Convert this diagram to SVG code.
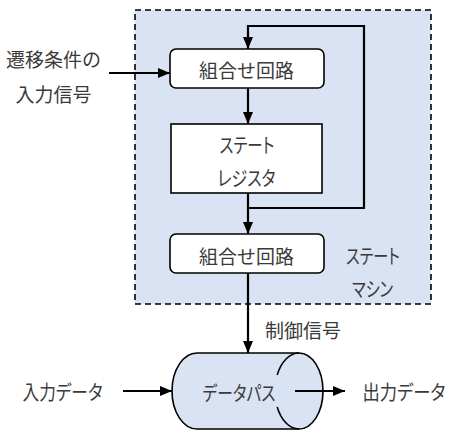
<svg xmlns="http://www.w3.org/2000/svg" width="474" height="442" viewBox="0 0 474 442">
<style>
text{font-family:"Noto Sans CJK JP","Noto Sans",sans-serif;font-size:19px;fill:#3a3a3a;text-anchor:middle;dominant-baseline:central}
.k{font-feature-settings:"palt";font-size:20.5px}
.box{fill:#fff;stroke:#000;stroke-width:1.6}
.ln{fill:none;stroke:#000;stroke-width:2.2}
</style>
<defs>
<marker id="ah" viewBox="0 0 12 10" refX="12" refY="5" markerWidth="12" markerHeight="10" markerUnits="userSpaceOnUse" orient="auto">
<path d="M0,0 L12,5 L0,10 z" fill="#000"/>
</marker>
</defs>
<rect width="474" height="442" fill="#fff"/>
<g id="state-machine">
<rect x="135" y="10" width="296" height="294" fill="#dae3f3" stroke="#000" stroke-width="1.6" stroke-dasharray="6,4"/>
<text class="k" x="373" y="255" textLength="54" lengthAdjust="spacingAndGlyphs">ステート</text>
<text class="k" x="372.5" y="288" textLength="41" lengthAdjust="spacingAndGlyphs">マシン</text>
</g>
<g id="comb1">
<rect class="box" x="170" y="49" width="154" height="39" rx="6"/>
<text x="246.5" y="69.5">組合せ回路</text>
</g>
<g id="register">
<rect class="box" x="171" y="124" width="151" height="69"/>
<text class="k" x="247" y="143.5" textLength="55" lengthAdjust="spacingAndGlyphs">ステート</text>
<text class="k" x="246.5" y="176.5" textLength="58" lengthAdjust="spacingAndGlyphs">レジスタ</text>
</g>
<g id="comb2">
<rect class="box" x="170" y="234" width="154" height="39" rx="6"/>
<text x="246.5" y="255">組合せ回路</text>
</g>
<g id="datapath">
<path d="M197 353 L299 353 A24 38 0 0 1 299 429 L197 429 A25 38 0 0 1 197 353 Z" fill="#dae3f3" stroke="#000" stroke-width="1.6"/>
<path d="M299 353 A24 38 0 0 0 277.2 375 M277.2 407 A24 38 0 0 0 299 429" fill="none" stroke="#000" stroke-width="1.6"/>
<text class="k" x="239" y="392" textLength="73" lengthAdjust="spacingAndGlyphs">データパス</text>
</g>
<g id="labels">
<text x="53.5" y="58.5">遷移条件の</text>
<text x="53.5" y="93">入力信号</text>
<text x="303" y="329.5">制御信号</text>
<text class="k" x="62.5" y="391" textLength="80" lengthAdjust="spacingAndGlyphs">入力データ</text>
<text class="k" x="404" y="391" textLength="83" lengthAdjust="spacingAndGlyphs">出力データ</text>
</g>
<g id="connectors">
<path class="ln" d="M109 73 H170" marker-end="url(#ah)"/>
<path class="ln" d="M248 88 V124" marker-end="url(#ah)"/>
<path class="ln" d="M248 193 V234" marker-end="url(#ah)"/>
<path class="ln" d="M248 208 H364 V26 H248 V49" marker-end="url(#ah)"/>
<path class="ln" d="M248 273 V353" marker-end="url(#ah)"/>
<path class="ln" d="M123 391 H172" marker-end="url(#ah)"/>
<path class="ln" d="M295 391 H345" marker-end="url(#ah)"/>
</g>
</svg>
